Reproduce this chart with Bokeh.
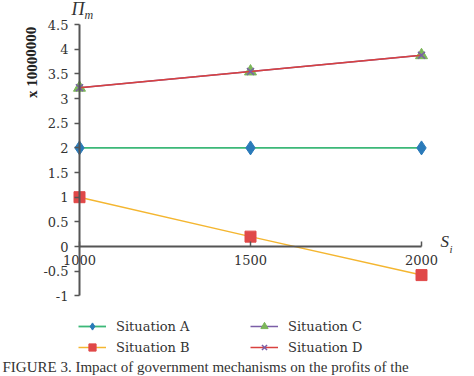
from bokeh.plotting import figure
from bokeh.models import (LinearAxis, FixedTicker, Range1d, Label, Legend, LegendItem,
                          CustomJSTickFormatter)
from bokeh.embed import file_html
from bokeh.resources import INLINE

x_vals = [1000, 1500, 2000]
sit_a = [2.0, 2.0, 2.0]
sit_b = [1.0, 0.2, -0.58]
sit_c = [3.22, 3.55, 3.88]
sit_d = [3.22, 3.55, 3.88]
y_ticks = [-1, -0.5, 0, 0.5, 1, 1.5, 2, 2.5, 3, 3.5, 4, 4.5]
x_ticks = [1000, 1500, 2000]

FONT = "Liberation Serif"
AXFONT = "DejaVu Serif"
W, H = 474, 376
pxx = 342 / 1000.0
pxy = 49.3
x0 = 1000 - 79 / pxx
x1 = 1000 + (W - 79) / pxx
y1 = 246 / pxy
y0 = -(H - 246) / pxy

p = figure(width=W, height=H, output_backend="svg", toolbar_location=None,
           x_range=Range1d(x0, x1), y_range=Range1d(y0, y1),
           x_axis_location=None, y_axis_location=None,
           min_border=0, min_border_left=0, min_border_right=0,
           min_border_top=0, min_border_bottom=0)
p.outline_line_color = None
p.xgrid.visible = False
p.ygrid.visible = False
p.background_fill_color = "white"
p.border_fill_color = "white"

yax = LinearAxis(fixed_location=1000, ticker=FixedTicker(ticks=y_ticks), bounds=(-1, 4.5))
yax.formatter = CustomJSTickFormatter(code="return String(tick);")
xax = LinearAxis(fixed_location=0, ticker=FixedTicker(ticks=x_ticks), bounds=(1000, 2000))
for ax in (xax, yax):
    ax.axis_line_color = "#555555"
    ax.axis_line_width = 2
    ax.major_tick_line_color = "#555555"
    ax.major_tick_line_width = 1.5
    ax.minor_tick_line_color = None
    ax.major_label_text_font = AXFONT
    ax.major_label_text_font_size = "13px"
    ax.major_label_text_color = "#333333"
yax.major_tick_out = 5
yax.major_tick_in = 0
yax.major_label_standoff = 6
xax.major_tick_out = 0
xax.major_tick_in = 5
xax.major_label_standoff = 8
p.add_layout(yax, "left")
p.add_layout(xax, "below")

la = p.line(x_vals, sit_a, line_color="#3cb878", line_width=1.8)
ma = p.scatter(x_vals, sit_a, marker="diamond", size=14, fill_color="#2a7ab9", line_color="#2a7ab9")
lb = p.line(x_vals, sit_b, line_color="#f4b630", line_width=1.5)
mb = p.scatter(x_vals, sit_b, marker="square", size=11, fill_color="#e04848", line_color="#e04848")
lc = p.line(x_vals, sit_c, line_color="#7b5ea7", line_width=1.5)
mc = p.scatter(x_vals, sit_c, marker="triangle", size=12, fill_color="#7cb65a", line_color="#7cb65a")
ld = p.line(x_vals, sit_d, line_color="#d9413f", line_width=1.5)
md = p.scatter(x_vals, sit_d, marker="x", size=10, line_color="#7b5ea7", line_width=1.5)

leg_style = dict(label_text_font=AXFONT, label_text_font_size="13px", label_text_color="#333333",
                 glyph_width=28, glyph_height=18, spacing=3, label_standoff=10,
                 border_line_color=None, background_fill_alpha=0, padding=0, margin=0)
legend1 = Legend(items=[
    LegendItem(label="Situation A", renderers=[la, ma]),
    LegendItem(label="Situation B", renderers=[lb, mb]),
], location=(78, 20), **leg_style)
legend2 = Legend(items=[
    LegendItem(label="Situation C", renderers=[lc, mc]),
    LegendItem(label="Situation D", renderers=[ld, md]),
], location=(250, 20), **leg_style)
p.add_layout(legend1, "center")
p.add_layout(legend2, "center")

p.add_layout(Label(x=31, y=H - 62, x_units="screen", y_units="screen", text="x 10000000",
                   angle=1.5708, text_font=FONT, text_font_style="bold",
                   text_font_size="15px", text_color="#222222", text_align="center",
                   text_baseline="middle"))
p.add_layout(Label(x=71, y=H - 18, x_units="screen", y_units="screen", text="Π",
                   text_font=FONT, text_font_style="italic", text_font_size="18px",
                   text_color="#333333"))
p.add_layout(Label(x=84, y=H - 21, x_units="screen", y_units="screen", text="m",
                   text_font=FONT, text_font_style="italic", text_font_size="12px",
                   text_color="#333333"))
p.add_layout(Label(x=440, y=H - 250, x_units="screen", y_units="screen", text="S",
                   text_font=FONT, text_font_style="italic", text_font_size="17px",
                   text_color="#333333"))
p.add_layout(Label(x=449, y=H - 254, x_units="screen", y_units="screen", text="i",
                   text_font=FONT, text_font_style="italic", text_font_size="11px",
                   text_color="#333333"))
p.add_layout(Label(x=2, y=2, x_units="screen", y_units="screen",
                   text="FIGURE 3. Impact of government mechanisms on the profits of the",
                   text_font=FONT, text_font_size="15px", text_color="#333333"))

open("out.html", "w").write(file_html(p, INLINE))
